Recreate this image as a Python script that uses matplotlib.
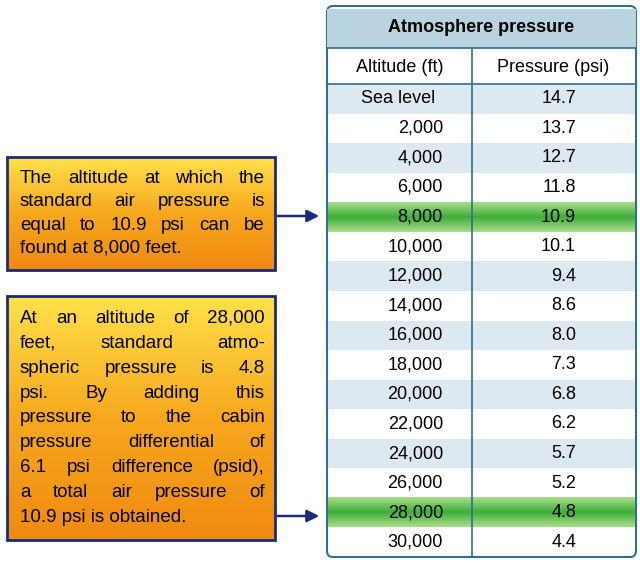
import numpy as np
import matplotlib.pyplot as plt
from matplotlib.patches import Rectangle, FancyBboxPatch
from matplotlib.colors import LinearSegmentedColormap

plt.rcParams["font.family"] = "Liberation Sans"

altitudes = ["Sea level", "2,000", "4,000", "6,000", "8,000", "10,000", "12,000", "14,000",
             "16,000", "18,000", "20,000", "22,000", "24,000", "26,000", "28,000", "30,000"]
pressures = ["14.7", "13.7", "12.7", "11.8", "10.9", "10.1", "9.4", "8.6",
             "8.0", "7.3", "6.8", "6.2", "5.7", "5.2", "4.8", "4.4"]
highlight = ["8,000", "28,000"]

note1 = ["The altitude at which the", "standard air pressure is",
         "equal to 10.9 psi can be", "found at 8,000 feet."]
note2 = ["At an altitude of 28,000", "feet, standard atmo-", "spheric pressure is 4.8",
         "psi. By adding this", "pressure to the cabin", "pressure differential of",
         "6.1 psi difference (psid),", "a total air pressure of", "10.9 psi is obtained."]

border = "#2f6f8f"
fig = plt.figure(figsize=(6.4, 5.63), dpi=100)
ax = fig.add_axes([0, 0, 1, 1])
ax.set_xlim(0, 640)
ax.set_ylim(563, 0)
ax.axis("off")
renderer = fig.canvas.get_renderer()

x0, x1, xm = 327, 636, 472
top, hdr, colhdr = 6, 48, 84
rh = (557 - colhdr) / len(altitudes)

ax.add_patch(FancyBboxPatch((x0, top), x1 - x0, 551, boxstyle="round,pad=0,rounding_size=6",
                            fc="white", ec=border, lw=1.5, zorder=1))
ax.add_patch(Rectangle((x0, top + 3), x1 - x0, hdr - top - 3, fc="#b9d3df", ec="none", zorder=1))
ax.text((x0 + x1) / 2, (top + hdr) / 2, "Atmosphere pressure", ha="center", va="center",
        fontsize=13, fontweight="bold", zorder=5)
ax.plot([x0, x1], [hdr, hdr], color=border, lw=1.2, zorder=4)
ax.plot([x0, x1], [colhdr, colhdr], color=border, lw=1.2, zorder=4)
ax.text(400, 68, "Altitude (ft)", ha="center", va="center", fontsize=13)
ax.text(553, 68, "Pressure (psi)", ha="center", va="center", fontsize=13)

green = LinearSegmentedColormap.from_list("g", ["#a9dc8a", "#3fae3a", "#a9dc8a"])
for i, (a, p) in enumerate(zip(altitudes, pressures)):
    y = colhdr + i * rh
    if a in highlight:
        grad = np.linspace(0, 1, 50).reshape(-1, 1)
        ax.imshow(grad, cmap=green, extent=(x0 + 1, x1 - 1, y + rh, y), aspect="auto", zorder=2)
    elif i % 2 == 0:
        ax.add_patch(Rectangle((x0 + 1, y), x1 - x0 - 2, rh, fc="#dce9f1", ec="none", zorder=2))
    if a == "Sea level":
        ax.text(398, y + rh / 2, a, ha="center", va="center", fontsize=13, zorder=5)
    else:
        ax.text(443, y + rh / 2, a, ha="right", va="center", fontsize=13, zorder=5)
    ax.text(576, y + rh / 2, p, ha="right", va="center", fontsize=13, zorder=5)
ax.plot([xm, xm], [hdr, 557], color=border, lw=1.2, zorder=4)


def text_width(s, fs):
    t = ax.text(0, 0, s, fontsize=fs)
    w = t.get_window_extent(renderer).width
    t.remove()
    return w


def justified(lines, left, right, ytop, lh, fs):
    for j, line in enumerate(lines):
        yy = ytop + lh * (j + 0.5)
        words = line.split()
        if j == len(lines) - 1 or len(words) == 1:
            ax.text(left, yy, line, ha="left", va="center", fontsize=fs, zorder=5)
            continue
        widths = [text_width(w, fs) for w in words]
        gap = (right - left - sum(widths)) / (len(words) - 1)
        x = left
        for w, wd in zip(words, widths):
            ax.text(x, yy, w, ha="left", va="center", fontsize=fs, zorder=5)
            x += wd + gap


orange = LinearSegmentedColormap.from_list("o", ["#ffe14a", "#f7a81e", "#f08a12"])
for (bx, by, bw, bh), lines, ay in [((7, 157, 268, 113), note1, 216),
                                    ((7, 296, 268, 244), note2, 516)]:
    grad = np.linspace(0, 1, 100).reshape(-1, 1)
    ax.imshow(grad, cmap=orange, extent=(bx, bx + bw, by + bh, by), aspect="auto", zorder=2)
    ax.add_patch(Rectangle((bx, by), bw, bh, fc="none", ec="#1c2a7a", lw=2, zorder=3))
    lh = (bh - 20) / len(lines)
    justified(lines, bx + 13, bx + bw - 10, by + 10, lh, 13.5)
    ax.annotate("", xy=(322, ay), xytext=(bx + bw, ay),
                arrowprops=dict(arrowstyle="-|>", color="#1c2a7a", lw=1.8, mutation_scale=18), zorder=5)

fig.savefig("out.png", dpi=100)
